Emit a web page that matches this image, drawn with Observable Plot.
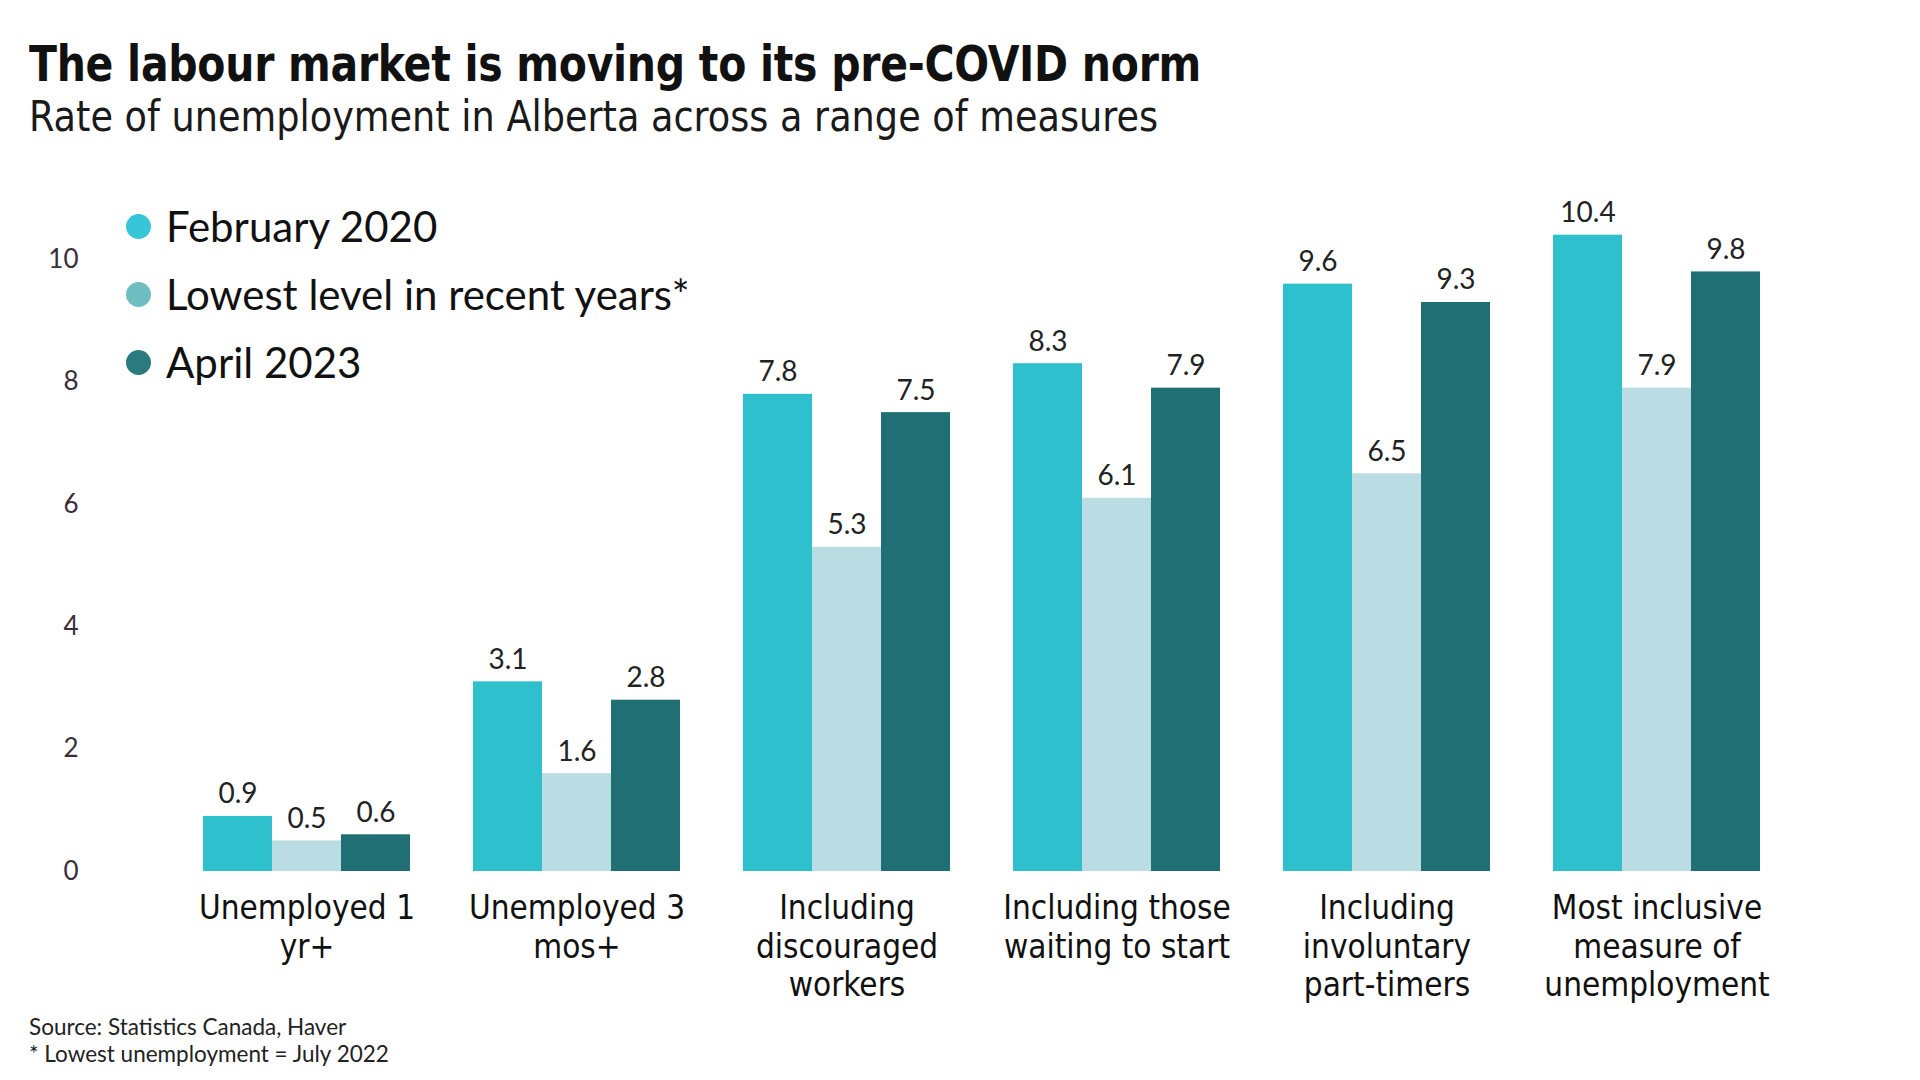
<!DOCTYPE html>
<html>
<head>
<meta charset="utf-8">
<script src="https://cdn.jsdelivr.net/npm/d3@7"></script>
<script src="https://cdn.jsdelivr.net/npm/@observablehq/plot@0.6"></script>
<style>
  html, body { margin: 0; padding: 0; background: #fff; }
  #page { position: relative; width: 1920px; height: 1080px; overflow: hidden; background: #fff; }
  .cond { font-family: "Liberation Sans Narrow", "DejaVu Sans Condensed", "Roboto Condensed", "Liberation Sans", sans-serif; }
  #title { position: absolute; left: 29px; top: 36px; font-size: 49px; font-weight: bold; color: #111; white-space: nowrap; letter-spacing: -0.3px; transform: scaleX(0.93); transform-origin: 0 0; }
  #subtitle { position: absolute; left: 29px; top: 92px; font-size: 42px; color: #1a1a1a; white-space: nowrap; transform: scaleX(0.97); transform-origin: 0 0; }
  #chart { position: absolute; left: 0; top: 152px; }
  #legend { position: absolute; left: 126px; top: 192px; font-family: Lato, "Open Sans", sans-serif; font-size: 42px; color: #111; }
  .item { display: flex; align-items: center; height: 68px; }
  .dot { width: 25px; height: 25px; border-radius: 50%; margin-right: 15px; }
  #footer { position: absolute; left: 29px; top: 1013px; font-family: Lato, "Open Sans", sans-serif; font-size: 22.5px; line-height: 27px; color: #222; }
</style>
</head>
<body>
<div id="page">
  <div id="title" class="cond">The labour market is moving to its pre-COVID norm</div>
  <div id="subtitle" class="cond">Rate of unemployment in Alberta across a range of measures</div>
  <div id="chart"></div>
  <div id="legend"></div>
  <div id="footer">Source: Statistics Canada, Haver<br>* Lowest unemployment = July 2022</div>
</div>
<script>
const categories = [
  "Unemployed 1 yr+",
  "Unemployed 3 mos+",
  "Including discouraged workers",
  "Including those waiting to start",
  "Including involuntary part-timers",
  "Most inclusive measure of unemployment"
];
const categoryLabels = [
  "Unemployed 1\nyr+",
  "Unemployed 3\nmos+",
  "Including\ndiscouraged\nworkers",
  "Including those\nwaiting to start",
  "Including\ninvoluntary\npart-timers",
  "Most inclusive\nmeasure of\nunemployment"
];
const seriesNames = ["February 2020", "Lowest level in recent years*", "April 2023"];
const feb2020 = [0.9, 3.1, 7.8, 8.3, 9.6, 10.4];
const lowest = [0.5, 1.6, 5.3, 6.1, 6.5, 7.9];
const apr2023 = [0.6, 2.8, 7.5, 7.9, 9.3, 9.8];
const yTicks = [0, 2, 4, 6, 8, 10];
const barColors = ["#2fc0ce", "#b9dde2", "#1f6f74"];
const legendColors = ["#36c6d7", "#70bdc1", "#2a7a80"];

const seriesValues = [feb2020, lowest, apr2023];
const rows = [];
categories.forEach((c, i) => {
  seriesNames.forEach((s, j) => rows.push({cat: c, series: s, value: seriesValues[j][i]}));
});
const labelOf = new Map(categories.map((c, i) => [c, categoryLabels[i]]));

const condFont = '"Liberation Sans Narrow", "DejaVu Sans Condensed", "Roboto Condensed", "Liberation Sans", sans-serif';

const chart = Plot.plot({
  width: 1920,
  height: 870,
  marginLeft: 199,
  marginRight: 156,
  marginTop: 46,
  marginBottom: 151,
  style: {fontFamily: "Lato, 'Open Sans', sans-serif", background: "transparent", overflow: "visible"},
  fx: {domain: categories, paddingInner: 0.225, paddingOuter: 0, label: null},
  x: {domain: seriesNames, padding: 0, axis: null},
  y: {domain: [0, 11], axis: null},
  color: {domain: seriesNames, range: barColors},
  marks: [
    Plot.barY(rows, {fx: "cat", x: "series", y: "value", fill: "series"}),
    Plot.text(rows, {fx: "cat", x: "series", y: "value", text: d => d.value.toFixed(1), dy: -22, fontSize: 28, fill: "#222"}),
    Plot.axisY({ticks: yTicks, tickSize: 0, tickPadding: 124, fontSize: 26, fill: "#3a2e3a", label: null}),
    Plot.axisFx({anchor: "bottom", tickSize: 0, tickPadding: 20, tickFormat: c => labelOf.get(c), fontSize: 33, lineHeight: 1.17, fontFamily: condFont, fill: "#111", label: null})
  ]
});
document.getElementById("chart").appendChild(chart);

const legend = document.getElementById("legend");
seriesNames.forEach((s, i) => {
  const item = document.createElement("div");
  item.className = "item";
  const dot = document.createElement("span");
  dot.className = "dot";
  dot.style.background = legendColors[i];
  const label = document.createElement("span");
  label.textContent = s;
  item.appendChild(dot);
  item.appendChild(label);
  legend.appendChild(item);
});
</script>
</body>
</html>
